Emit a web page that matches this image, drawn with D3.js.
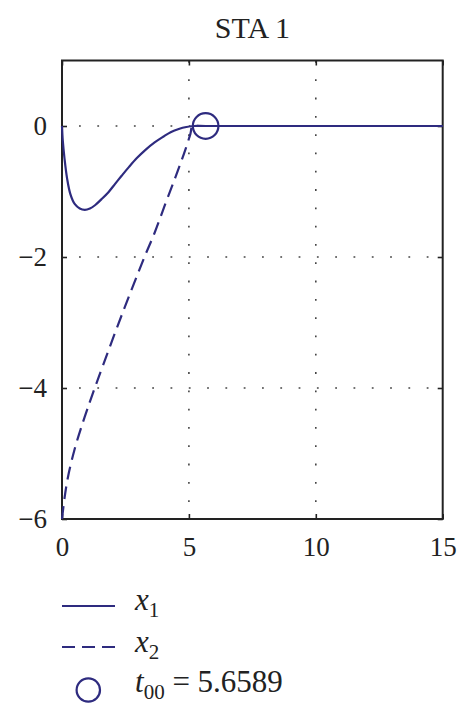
<!DOCTYPE html>
<html>
<head>
<meta charset="utf-8">
<script src="https://cdn.jsdelivr.net/npm/d3@7"></script>
<style>
  body { margin: 0; background: #fff; }
  svg { display: block; }
  text { font-family: "Liberation Serif", "DejaVu Serif", serif; fill: #222; }
</style>
</head>
<body>
<svg id="chart" width="474" height="719"></svg>
<script>
// data
var t1 = [0, 0.03, 0.1, 0.2, 0.33, 0.5, 0.7, 0.9, 1.1, 1.3, 1.55, 1.83, 2.1, 2.35, 2.65, 2.95, 3.3, 3.65, 4.0, 4.3, 4.6, 4.9, 5.2, 5.66, 15];
var x1 = [0, -0.22, -0.5, -0.8, -1.04, -1.19, -1.26, -1.28, -1.26, -1.21, -1.12, -1.01, -0.88, -0.76, -0.62, -0.49, -0.36, -0.25, -0.16, -0.09, -0.045, -0.015, 0, 0, 0];
var t2 = [0, 0.1, 0.24, 0.5, 0.76, 1.09, 1.29, 1.6, 2.36, 3.25, 3.65, 4.07, 4.47, 4.79, 5.06, 5.14, 5.4, 6, 15];
var x2 = [-6, -5.68, -5.35, -4.93, -4.6, -4.22, -4.0, -3.67, -2.88, -2.0, -1.63, -1.19, -0.78, -0.44, -0.12, 0, 0, 0, 0];
var t00 = 5.6589;
var xTicks = [0, 5, 10, 15];
var yTicks = [-6, -4, -2, 0];
var xGrid = [5, 10];
var yGrid = [-4, -2, 0];

var col = "#2e2b7f";
var serif = "'Liberation Serif', 'DejaVu Serif', serif";
var pLeft = 62, pRight = 442.7, pTop = 60.5, pBottom = 519;

var svg = d3.select("#chart");
var x = d3.scaleLinear().domain([0, 15]).range([pLeft, pRight]);
var y = d3.scaleLinear().domain([-6, 1]).range([pBottom, pTop]);

// title
svg.append("text")
  .attr("x", (pLeft + pRight) / 2)
  .attr("y", 38)
  .attr("text-anchor", "middle")
  .style("font-family", serif)
  .style("font-size", "30px")
  .text("STA 1");

// dotted grid
svg.selectAll(".vg").data(xGrid).enter().append("line")
  .attr("x1", d => x(d)).attr("x2", d => x(d))
  .attr("y1", pBottom).attr("y2", pTop)
  .attr("stroke", "#444").attr("stroke-width", 1.6)
  .attr("stroke-dasharray", "1.8 16.5").attr("stroke-dashoffset", -17);
svg.selectAll(".hg").data(yGrid).enter().append("line")
  .attr("x1", pLeft).attr("x2", pRight)
  .attr("y1", d => y(d)).attr("y2", d => y(d))
  .attr("stroke", "#444").attr("stroke-width", 1.6)
  .attr("stroke-dasharray", "1.8 16.5").attr("stroke-dashoffset", -17);

// axes
var gx = svg.append("g").attr("transform", "translate(0," + pBottom + ")")
  .call(d3.axisBottom(x).tickValues(xTicks).tickSize(-5).tickPadding(18).tickFormat(d3.format("d")));
var gy = svg.append("g").attr("transform", "translate(" + pLeft + ",0)")
  .call(d3.axisLeft(y).tickValues(yTicks).tickSize(-5).tickPadding(15).tickFormat(d3.format("d")));
var gt = svg.append("g").attr("transform", "translate(0," + pTop + ")")
  .call(d3.axisTop(x).tickValues(xTicks).tickSize(-5).tickFormat(""));
var gr = svg.append("g").attr("transform", "translate(" + pRight + ",0)")
  .call(d3.axisRight(y).tickValues(yTicks).tickSize(-5).tickFormat(""));
[gx, gy, gt, gr].forEach(function (g) {
  g.attr("font-family", serif).attr("font-size", 27);
  g.select(".domain").remove();
  g.selectAll(".tick line").attr("stroke", "#222").attr("stroke-width", 1.6);
  g.selectAll(".tick text").style("font-family", serif).style("font-size", "27px").attr("fill", "#222");
});

svg.append("rect")
  .attr("x", pLeft).attr("y", pTop)
  .attr("width", pRight - pLeft).attr("height", pBottom - pTop)
  .attr("fill", "none").attr("stroke", "#222").attr("stroke-width", 2);

// curves
var line = d3.line().x(d => x(d[0])).y(d => y(d[1])).curve(d3.curveCatmullRom.alpha(0.5));
svg.append("path")
  .datum(d3.zip(t2, x2))
  .attr("d", line)
  .attr("fill", "none").attr("stroke", col).attr("stroke-width", 2.2)
  .attr("stroke-dasharray", "13 7");
svg.append("path")
  .datum(d3.zip(t1, x1))
  .attr("d", line)
  .attr("fill", "none").attr("stroke", col).attr("stroke-width", 2.2);

svg.append("circle")
  .attr("cx", x(t00)).attr("cy", y(0)).attr("r", 12.8)
  .attr("fill", "none").attr("stroke", col).attr("stroke-width", 2.2);

// legend
var lg = svg.append("g");
lg.append("line").attr("x1", 62).attr("x2", 115).attr("y1", 606).attr("y2", 606)
  .attr("stroke", col).attr("stroke-width", 2.2);
lg.append("line").attr("x1", 62).attr("x2", 115).attr("y1", 647).attr("y2", 647)
  .attr("stroke", col).attr("stroke-width", 2.2).attr("stroke-dasharray", "13 7");
lg.append("circle").attr("cx", 88.3).attr("cy", 690).attr("r", 11.7)
  .attr("fill", "none").attr("stroke", col).attr("stroke-width", 2.2);

function legText(yb, main, sub, rest) {
  var t = lg.append("text").attr("x", 135).attr("y", yb)
    .style("font-family", serif).style("font-size", "31px");
  t.append("tspan").style("font-style", "italic").text(main);
  t.append("tspan").attr("dy", 7).style("font-size", "21px").text(sub);
  if (rest) t.append("tspan").attr("dy", -7).text(rest);
}
legText(610, "x", "1");
legText(652, "x", "2");
legText(692, "t", "00", " = " + t00);
</script>
</body>
</html>
